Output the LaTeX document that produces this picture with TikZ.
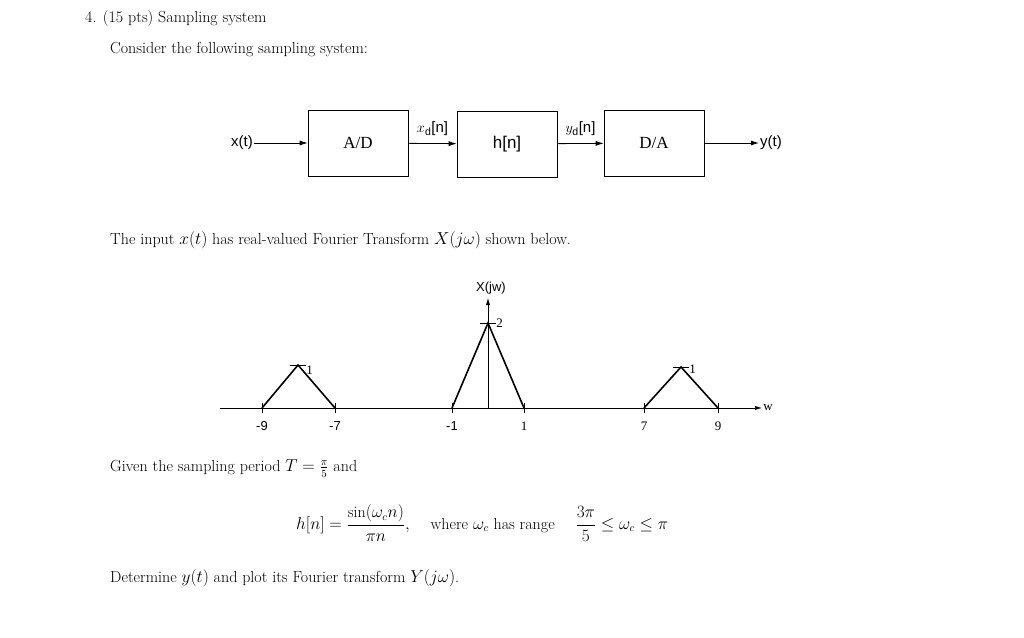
\documentclass[tikz,border=0pt]{standalone}
\usepackage{fontspec}
\usepackage{amsmath}
\usetikzlibrary{arrows.meta}
\newfontfamily\arialf{Liberation Sans}
\newfontfamily\timesf{Liberation Serif}
\begin{document}
\begin{tikzpicture}[x=1pt,y=-1pt,
  txt/.style={anchor=west,inner sep=0pt,font=\fontsize{16}{19}\selectfont},
  blk/.style={draw,line width=0.6pt,minimum width=100pt,minimum height=66pt,inner sep=0pt,font=\timesf\fontsize{17}{20}\selectfont},
  arr/.style={-{Latex[length=8pt,width=5pt]},line width=0.8pt},
  curve/.style={line width=1.6pt},
  lab/.style={inner sep=1pt,font=\timesf\fontsize{13}{15}\selectfont},
  alab/.style={inner sep=1pt,font=\arialf\fontsize{13}{15}\selectfont}]
\useasboundingbox (0,0) rectangle (1024,637);
\node[txt] (t1) at (85,19) {4. (15 pts) Sampling system};
\node[txt] (t2) at (110,50) {Consider the following sampling system:};
% block diagram
\node[alab,font=\arialf\fontsize{15}{17}\selectfont] (xt) at (242,143) {x(t)};
\node[blk] (ad) at (358,143) {A/D};
\node[blk,font=\arialf\fontsize{17}{20}\selectfont] (hn) at (507,144) {h[n]};
\node[blk] (da) at (654,143) {D/A};
\node[alab,font=\arialf\fontsize{15}{17}\selectfont] (yt) at (771,143) {y(t)};
\draw[arr] (xt) -- (ad);
\draw[arr] (ad) -- (hn) node[midway,above=4pt,font=\fontsize{15}{17}\selectfont]{$x_{\text{\arialf d}}$\arialf[n]};
\draw[arr] (hn) -- (da) node[midway,above=4pt,font=\fontsize{15}{17}\selectfont]{$y_{\text{\arialf d}}$\arialf[n]};
\draw[arr] (da) -- (yt);
\node[txt] (t3) at (110,240) {The input $x(t)$ has real-valued Fourier Transform $X(j\omega)$ shown below.};
% plot
\coordinate (a0) at (220,408);
\coordinate (a1) at (762,408);
\draw[line width=0.5pt,-{Latex[length=7pt,width=4pt]}] (a0) -- (a1) node[right,lab]{w};
\coordinate (o) at (488,408);
\coordinate (top) at (488,298);
\draw[line width=0.5pt,-{Latex[length=7pt,width=4pt]}] (o) -- (top);
\node[alab] (xl) at (491,288) {X(jw)};
\foreach \x/\l/\f in {262/-9/alab,335/-7/alab,452/-1/alab,524/1/lab,644/7/lab,718/9/lab}{
  \draw[line width=0.5pt] (\x,403) -- (\x,413);
  \node[\f] at (\x,426) {\l};
}
\draw[curve] (262,408) -- (298,365) -- (335,408);
\draw[curve] (452,408) -- (488,323) -- (524,408);
\draw[curve] (644,408) -- (681,367) -- (718,408);
\draw[line width=0.5pt] (290,365) -- (306,365) node[right=-1pt,lab,yshift=-5pt]{1};
\draw[line width=0.5pt] (480,323) -- (496,323) node[right=-1pt,lab]{2};
\draw[line width=0.5pt] (673,367) -- (689,367) node[right=-1pt,lab,yshift=-2pt]{1};
% text
\node[txt] (t4) at (110,469) {Given the sampling period $T=\frac{\pi}{5}$ and};
\node[txt] (t5) at (296,523) {$\displaystyle h[n]=\frac{\sin(\omega_c n)}{\pi n},\quad$ where $\omega_c$ has range $\quad\displaystyle\frac{3\pi}{5}\le\omega_c\le\pi$};
\node[txt] (t6) at (110,578) {Determine $y(t)$ and plot its Fourier transform $Y(j\omega)$.};
\end{tikzpicture}
\end{document}
